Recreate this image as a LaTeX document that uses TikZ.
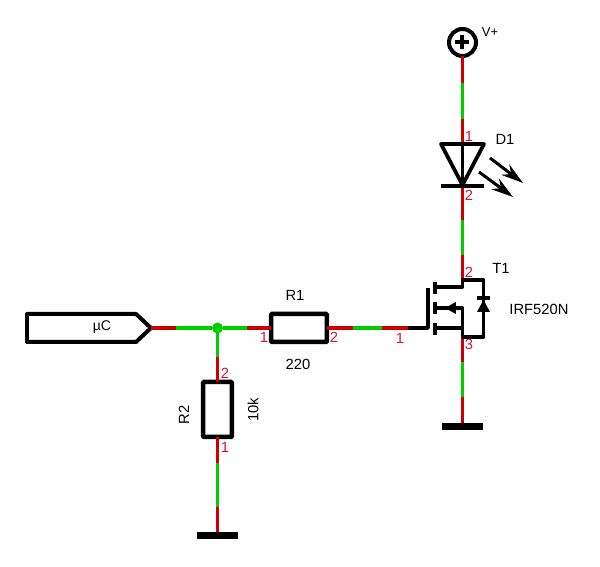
\documentclass[tikz,border=0pt]{standalone}
\usepackage{fontspec}
\setmainfont{Liberation Sans}
\usetikzlibrary{arrows.meta,shapes.geometric}
\definecolor{wirered}{RGB}{204,0,0}
\definecolor{wiregreen}{RGB}{0,204,0}
\definecolor{pinred}{RGB}{214,20,60}
\tikzset{
	redwire/.style={draw=wirered,line width=0.07cm},
	greenwire/.style={draw=wiregreen,line width=0.07cm},
	part/.style={black,line width=0.075cm,line join=round},
	resbox/.style={draw,black,line width=0.09cm,rounded corners=0.02cm,inner sep=0,outer sep=0},
	gndbar/.style={fill=black,inner sep=0,outer sep=0,minimum width=0.82cm,minimum height=0.14cm},
	rays/.style={line width=0.06cm,-{Stealth[length=0.44cm,width=0.26cm]}},
	lbl/.style={inner sep=0,font=\fontsize{8.4}{10}\selectfont},
	pinlbl/.style={inner sep=0,text=pinred,font=\fontsize{8.4}{10}\selectfont},
}
\begin{document}
\begin{tikzpicture}[x=0.02cm,y=-0.02cm]
	\useasboundingbox (0,0) rectangle (600,567);
	\node[draw,circle,black,line width=0.08cm,minimum size=0.54cm,inner sep=0,outer sep=0] (vcc) at (462.5,42.5) {};
	\draw[black,line width=0.08cm] (vcc.center) ++(-7,0) -- ++(14,0) (vcc.center) ++(0,-7) -- ++(0,14);
	\node[lbl,font=\fontsize{7.4}{9}\selectfont] (vcclbl) at (490,32) {V+};
	\coordinate (a1) at (462.5,83);
	\coordinate (a2) at (462.5,119);
	\coordinate (ledtop) at (462.5,144);
	\coordinate (ledbot) at (462.5,186);
	\coordinate (b1) at (462.5,220);
	\coordinate (b2) at (462.5,255);
	\coordinate (drain) at (462.5,280);
	\coordinate (source) at (462.5,337);
	\coordinate (c1) at (462.5,362);
	\coordinate (c2) at (462.5,397);
	\node[gndbar] (gnda) at (462.5,427) {};
	\draw[redwire] (vcc.south) -- (a1);
	\draw[greenwire] (a1) -- (a2);
	\draw[redwire] (a2) -- (ledtop);
	\draw[redwire] (ledbot) -- (b1);
	\draw[greenwire] (b1) -- (b2);
	\draw[redwire] (b2) -- (drain);
	\draw[redwire] (source) -- (c1);
	\draw[greenwire] (c1) -- (c2);
	\draw[redwire] (c2) -- (gnda.north);
	\draw[part] (441,144) -- (484,144) -- (462.5,185) -- cycle;
	\draw[part] (ledtop) -- (ledbot);
	\draw[part] (441,186) -- (484,186);
	\draw[rays] (490,158) -- (523,183);
	\draw[rays] (479,172) -- (513,197);
	\node[lbl] (d1lbl) at (505,139) {D1};
	\node[pinlbl] (d1p1) at (469,136) {1};
	\node[pinlbl] (d1p2) at (469,195) {2};
	\coordinate (gate) at (408,328);
	\draw[part] (gate) -- (428,328) -- (428,288);
	\draw[part] (435,282) -- (435,294);
	\draw[part] (435,302) -- (435,314);
	\draw[part] (435,323) -- (435,335);
	\draw[part] (435,287) -- (462.5,287) -- (drain) -- (483.5,280) -- (483.5,337) -- (source);
	\draw[part] (435,328) -- (462.5,328);
	\draw[part] (435,308) -- (462.5,308) -- (source);
	\fill[black] (445,308) -- (456,302) -- (456,314) -- cycle;
	\fill[black] (483.5,300) -- (490,312) -- (477,312) -- cycle;
	\draw[part] (477,298) -- (490,298);
	\node[lbl] (t1lbl) at (501,268) {T1};
	\node[lbl] (t1val) at (539,309) {IRF520N};
	\node[pinlbl] (t1p2) at (469,272) {2};
	\node[pinlbl] (t1p3) at (469,344) {3};
	\node[pinlbl] (t1p1) at (400,338) {1};
	\coordinate (in) at (151,328);
	\draw[black,line width=0.08cm,line join=round] (27,314) -- (136,314) -- (in) -- (136,342) -- (27,342) -- cycle;
	\node[lbl,font=\fontsize{8}{10}\selectfont] (inlbl) at (102,327) {µC};
	\coordinate (d1) at (176,328);
	\node[circle,fill=wiregreen,inner sep=0,outer sep=0,minimum size=0.22cm] (junc) at (217.5,328) {};
	\coordinate (d2) at (247,328);
	\node[resbox,minimum width=1.12cm,minimum height=0.56cm] (r1) at (299,328) {};
	\coordinate (e1) at (353,328);
	\coordinate (e2) at (382,328);
	\draw[redwire] (in) -- (d1);
	\draw[greenwire] (d1) -- (junc);
	\draw[greenwire] (junc) -- (d2);
	\draw[redwire] (d2) -- (r1.west);
	\draw[redwire] (r1.east) -- (e1);
	\draw[greenwire] (e1) -- (e2);
	\draw[redwire] (e2) -- (gate);
	\node[lbl] (r1lbl) at (295,295) {R1};
	\node[lbl] (r1val) at (298,364) {220};
	\node[pinlbl] (r1p1) at (264,337) {1};
	\node[pinlbl] (r1p2) at (334,337) {2};
	\node[resbox,minimum width=0.58cm,minimum height=1.1cm] (r2) at (217.5,409.5) {};
	\coordinate (f1) at (217.5,357);
	\coordinate (g1) at (217.5,463);
	\coordinate (g2) at (217.5,507);
	\node[gndbar] (gndb) at (217.5,536) {};
	\draw[greenwire] (junc) -- (f1);
	\draw[redwire] (f1) -- (r2.north);
	\draw[redwire] (r2.south) -- (g1);
	\draw[greenwire] (g1) -- (g2);
	\draw[redwire] (g2) -- (gndb.north);
	\node[lbl,rotate=90] (r2lbl) at (184,415) {R2};
	\node[lbl,rotate=90] (r2val) at (253,410) {10k};
	\node[pinlbl] (r2p2) at (225,373) {2};
	\node[pinlbl] (r2p1) at (225,447) {1};
\end{tikzpicture}
\end{document}
